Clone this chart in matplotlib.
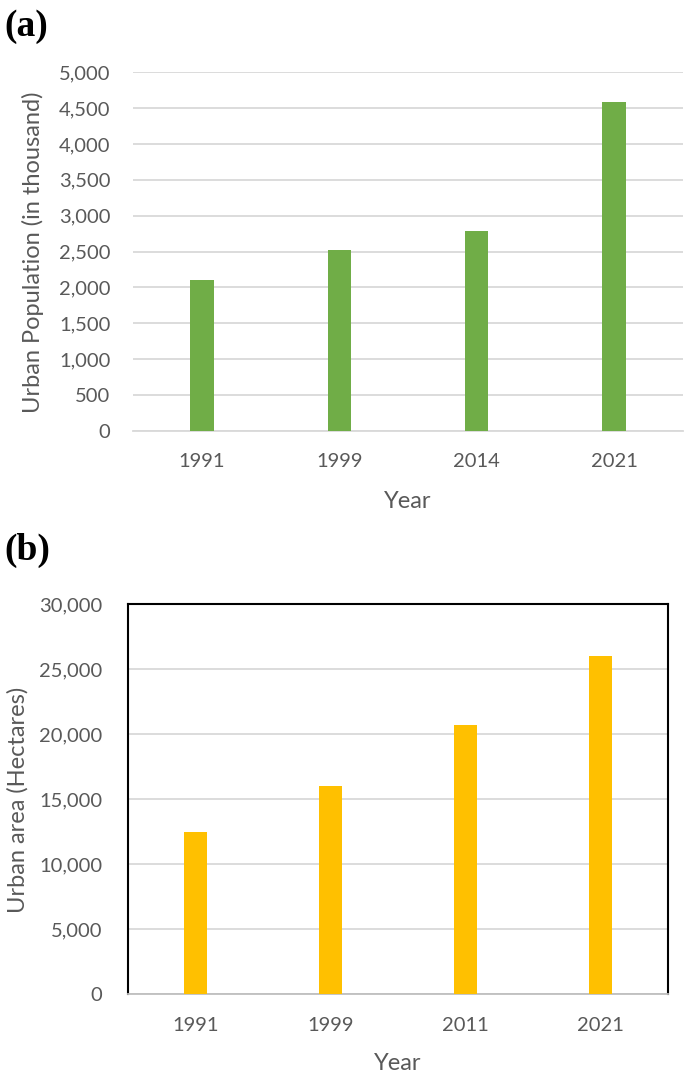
import matplotlib
matplotlib.use("Agg")
import matplotlib.pyplot as plt
from matplotlib.ticker import FuncFormatter, MultipleLocator

# Data
years_a = ["1991", "1999", "2014", "2021"]
pop_a = [2100, 2520, 2790, 4580]
years_b = ["1991", "1999", "2011", "2021"]
area_b = [12460, 16000, 20690, 26020]

FONT = "Lato"
TXT = "#595959"
W, H = 685, 1082
fig = plt.figure(figsize=(W / 100, H / 100), dpi=100)

def fx(px):
    return px / W

def fy(py):
    return 1 - py / H

fmt = FuncFormatter(lambda v, p: f"{int(v):,}")

def style(ax, ymax, step, color, years, vals, framed):
    x = range(len(years))
    ax.bar(x, vals, width=0.168, color=color, zorder=3)
    ax.set_xlim(-0.5, len(years) - 0.5)
    ax.set_ylim(0, ymax)
    ax.yaxis.set_major_locator(MultipleLocator(step))
    ax.yaxis.set_major_formatter(fmt)
    ax.set_xticks(list(x))
    ax.set_xticklabels(years)
    ax.grid(axis="y", color="#d9d9d9", linewidth=1.3, zorder=0)
    ax.tick_params(length=0, labelsize=14.5, labelcolor=TXT)
    for lab in ax.get_xticklabels() + ax.get_yticklabels():
        lab.set_fontfamily(FONT)
    if framed:
        for s in ["left", "top", "right"]:
            ax.spines[s].set_color("black")
            ax.spines[s].set_linewidth(1.5)
        ax.spines["bottom"].set_color("#bfbfbf")
        ax.spines["bottom"].set_linewidth(1.3)
    else:
        for s in ["left", "top", "right"]:
            ax.spines[s].set_visible(False)
        ax.spines["bottom"].set_color("#d9d9d9")
        ax.spines["bottom"].set_linewidth(1.3)

# Panel (a)
ax1 = fig.add_axes([fx(133.3), fy(430.7), fx(682.7) - fx(133.3), fy(72.3) - fy(430.7)])
style(ax1, 5000, 500, "#70AD47", years_a, pop_a, False)
ax1.tick_params(axis="y", pad=16.5)
ax1.tick_params(axis="x", pad=16)

# Panel (b)
ax2 = fig.add_axes([fx(127.7), fy(994.3), fx(668.4) - fx(127.7), fy(604.3) - fy(994.3)])
style(ax2, 30000, 5000, "#FFC000", years_b, area_b, True)
ax2.tick_params(axis="y", pad=18.5)
ax2.tick_params(axis="x", pad=16)

# Labels
fig.text(fx(33), fy(252), "Urban Population (in thousand)", rotation=90,
         ha="center", va="center", fontsize=17, color=TXT, family=FONT)
fig.text(fx(408), fy(502), "Year", ha="center", va="center",
         fontsize=17, color=TXT, family=FONT)
fig.text(fx(18), fy(800), "Urban area (Hectares)", rotation=90,
         ha="center", va="center", fontsize=17, color=TXT, family=FONT)
fig.text(fx(398), fy(1063), "Year", ha="center", va="center",
         fontsize=17, color=TXT, family=FONT)

fig.text(fx(4), fy(27), "(a)", ha="left", va="center", fontsize=27,
         fontweight="bold", family="Liberation Serif", color="black")
fig.text(fx(4), fy(550), "(b)", ha="left", va="center", fontsize=27,
         fontweight="bold", family="Liberation Serif", color="black")

fig.savefig("out.png", dpi=100)
